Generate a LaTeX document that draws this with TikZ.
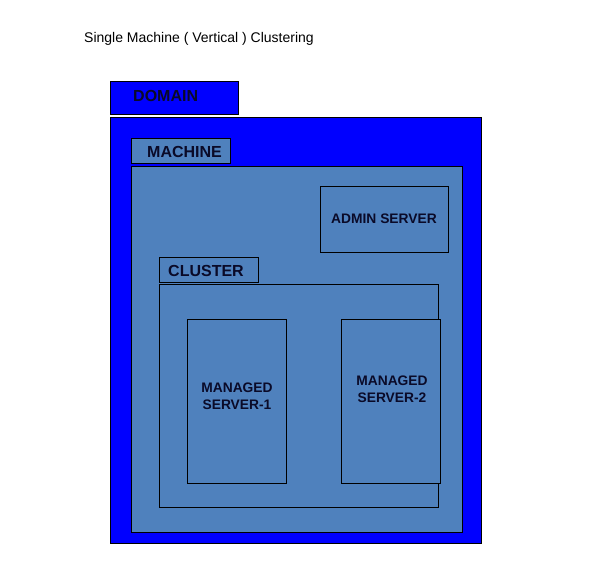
\documentclass[tikz,border=0pt]{standalone}
\usepackage{fontspec}
\setmainfont{Liberation Sans}
\usepackage{tikz}

\definecolor{domainblue}{HTML}{0000FF}
\definecolor{machineblue}{HTML}{4F81BD}
\definecolor{labelink}{HTML}{0A0A28}

\tikzset{
  box/.style={draw=black,line width=0.8pt,inner sep=0pt,outer sep=0pt,anchor=north west},
  domainbox/.style={box,fill=domainblue},
  machinebox/.style={box,fill=machineblue},
  lbl/.style={text=labelink,inner sep=0pt,font=\bfseries\fontsize{16}{19}\selectfont},
  srvlbl/.style={text=labelink,inner sep=0pt,align=center,font=\bfseries\fontsize{13.8}{16.5}\selectfont}
}

\begin{document}
\begin{tikzpicture}[x=1pt,y=-1pt]
  \useasboundingbox[fill=white] (0,0) rectangle (590,579);
  % title
  \node[anchor=west,inner sep=0pt,font=\fontsize{14}{16}\selectfont] (title) at (84,38.5) {Single Machine ( Vertical ) Clustering};
  % domain
  \node[domainbox,minimum width=128,minimum height=33] (domaintab) at (110,81) {};
  \node[lbl,anchor=west] (domaintxt) at (133,96) {DOMAIN};
  \node[domainbox,minimum width=371,minimum height=426] (domain) at (110,117) {};
  % machine
  \node[machinebox,minimum width=99,minimum height=25] (machinetab) at (131,138) {};
  \node[lbl,anchor=west] (machinetxt) at (147,151.5) {MACHINE};
  \node[machinebox,minimum width=331,minimum height=366] (machine) at (131,166) {};
  % admin server
  \node[machinebox,minimum width=128,minimum height=66] (admin) at (320,186) {};
  \node[srvlbl] (admintxt) at (384,219) {ADMIN SERVER};
  % cluster
  \node[machinebox,minimum width=99,minimum height=25] (clustertab) at (159,257) {};
  \node[lbl,anchor=west] (clustertxt) at (168,270.5) {CLUSTER};
  \node[machinebox,minimum width=279,minimum height=223] (cluster) at (159,284) {};
  % managed servers
  \node[machinebox,minimum width=99,minimum height=164] (ms1) at (187,319) {};
  \node[srvlbl] (ms1txt) at (237,396) {MANAGED\\SERVER-1};
  \node[machinebox,minimum width=99,minimum height=164] (ms2) at (341,319) {};
  \node[srvlbl] (ms2txt) at (392,389) {MANAGED\\SERVER-2};
\end{tikzpicture}
\end{document}
